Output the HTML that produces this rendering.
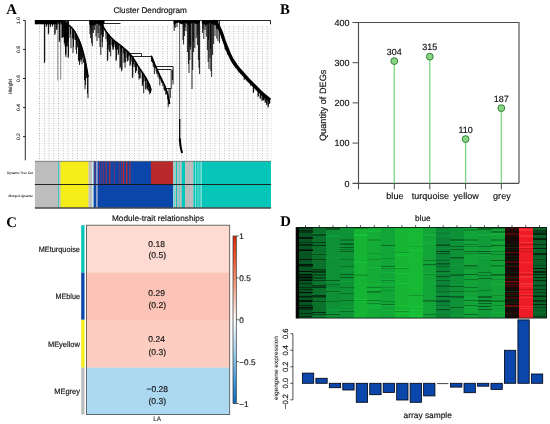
<!DOCTYPE html>
<html lang="en">
<head>
<meta charset="utf-8">
<title>WGCNA figure</title>
<style>
html,body{margin:0;padding:0;background:#fff;}
body{width:550px;height:424px;overflow:hidden;}
svg{display:block;text-rendering:geometricPrecision;}
.ss{font-family:"Liberation Sans", Arial, Helvetica, sans-serif;stroke:#111;stroke-width:1.6px;}
.sn{font-family:"Liberation Sans", Arial, Helvetica, sans-serif;stroke:#111;stroke-width:0.5px;}
.sf{font-family:"Liberation Serif", "Times New Roman", serif;}
</style>
</head>
<body>
<svg width="550" height="424" viewBox="0 0 550 424">
<rect x="0" y="0" width="550" height="424" fill="#ffffff"/>
<g id="panelA">
<text class="sf" transform="translate(6.3 14.0) scale(0.1)" font-size="148" text-anchor="start" fill="#000" font-weight="bold">A</text>
<text class="ss" transform="translate(150.1 12.6) scale(0.1)" font-size="83" text-anchor="middle" fill="#111" textLength="734" lengthAdjust="spacingAndGlyphs">Cluster Dendrogram</text>
<defs><pattern id="dots" x="34.3" y="25.9" width="4.74" height="2.49" patternUnits="userSpaceOnUse"><rect x="0" y="0" width="1" height="1" fill="#aeaeae"/><rect x="2.37" y="0" width="1" height="1" fill="#ebebeb"/></pattern></defs>
<rect x="38.5" y="25.9" width="233" height="134" fill="url(#dots)"/>
<path d="M25.3 20.4 V160.3" stroke="#111" stroke-width="0.9"/>
<path d="M23.0 20.4 H25.3" stroke="#111" stroke-width="0.9"/>
<text class="sn" transform="translate(20.1 20.4) rotate(-90) scale(0.1)" font-size="50" text-anchor="middle" fill="#000">1.0</text>
<path d="M23.0 49.46 H25.3" stroke="#111" stroke-width="0.9"/>
<text class="sn" transform="translate(20.1 49.46) rotate(-90) scale(0.1)" font-size="50" text-anchor="middle" fill="#000">0.8</text>
<path d="M23.0 78.52 H25.3" stroke="#111" stroke-width="0.9"/>
<text class="sn" transform="translate(20.1 78.52) rotate(-90) scale(0.1)" font-size="50" text-anchor="middle" fill="#000">0.6</text>
<path d="M23.0 107.58 H25.3" stroke="#111" stroke-width="0.9"/>
<text class="sn" transform="translate(20.1 107.58) rotate(-90) scale(0.1)" font-size="50" text-anchor="middle" fill="#000">0.4</text>
<path d="M23.0 136.64 H25.3" stroke="#111" stroke-width="0.9"/>
<text class="sn" transform="translate(20.1 136.64) rotate(-90) scale(0.1)" font-size="50" text-anchor="middle" fill="#000">0.2</text>
<text class="sn" transform="translate(11.8 86.6) rotate(-90) scale(0.1)" font-size="52" text-anchor="middle" fill="#111" textLength="152" lengthAdjust="spacingAndGlyphs">Height</text>
<rect x="34.8" y="20" width="28.6" height="4.3" fill="#000"/>
<path d="M57.8 22V80.5M60.7 22V79.5" stroke="#777" stroke-width="0.9" fill="none"/>
<path d="M89.3 20.2H104.5V23L101 26L97 23.5L93.5 25.5L89.3 24.5Z" fill="#000"/>
<path d="M179.6 20.4V121" stroke="#444" stroke-width="0.9" fill="none"/>
<path d="M179.7 119V142" stroke="#000" stroke-width="1.3" fill="none"/>
<path d="M179.8 139L180.3 145L181.2 149.5L181.9 152.2" stroke="#000" stroke-width="2" fill="none" stroke-linecap="round"/>
<path d="M173.6 20.2H200V22.5L197 24.5L193 22.5L189 25L185 22.8L182 24.5L178 22.5L173.6 24.5Z" fill="#000"/>
<path d="M201.8 20.2H218V23L214 25L210 22.8L206 25L201.8 23.5Z" fill="#000"/>
<path d="M35 20.5H270.6M270.5 20.5V24.3M44.4 20.5V63M44.75 20.5V61.5M46.3 20.5V27M46.65 20.5V25.5M48.3 20.5V34.5M48.65 20.5V33M50.3 20.5V27.2M50.65 20.5V25.7M52.5 20.5V26.5M52.85 20.5V25M54.8 20.5V35M55.15 20.5V33.5M56.6 20.5V30M56.95 20.5V28.5M59.3 20.5V42M59.65 20.5V40.5M62 20.5V38M62.35 20.5V36.5M64.3 20.5V43.5M64.65 20.5V42M65.5 20.5V55M65.85 20.5V53.5M67 20.5V47M67.35 20.5V45.5M68.2 20.5V58M68.55 20.5V56.5M62.5 21V37.58M63 21.21V36.86M63.5 21.43V37.14M64 21.64V29.84M64.5 21.86V42.93M65 22.07V46.25M65.5 22.29V39.87M66 22.5V57.12M66.5 22.87V46.15M67 23.23V37.66M67.5 23.6V41.63M68 23.97V38.7M70 25.63V37.81M70.5 26.1V33.86M71 26.57V48.31M72.5 28.17V38.44M73 28.83V52.98M73.5 29.5V47.33M74 30.17V38.24M75 31.5V40.12M75.5 32.42V39.99M76 33.33V49.9M76.5 34.25V53.92M77 35.17V43.76M77.5 36.08V47.44M78.5 38.2V60.63M79 39.4V61.28M79.5 40.6V64.91M80 41.8V62.21M80.5 43V59.61M81 44.5V55.37M81.5 46V60.66M82 47.5V64.34M82.5 49V58.27M83.5 52.75V62.67M84.5 56.5V80.1M85 58.83V89.22M85.5 61.17V84.99M86 63.5V74.63M86.5 66.19V77.97M87 68.88V76.62M87.5 71.83V93.68M88 75.17V98.18M90 20.5V34M90.5 20.5V27.35M90.6 20.5V38M91.6 20.5V43M92.1 20.5V31.09M92.3 20.5V46M93.4 20.5V33M94.6 20.5V30M95.1 20.5V25.68M96 20.5V36.5M97 20.5V41M98 20.5V33M98.9 20.5V38M100 20.5V47M100.8 20.5V55M101.3 20.5V34.78M102.3 20.5V42M102.8 20.5V36.93M103.2 20.5V37M100.8 23.5H120.5M101.1 22.58V30.17M102.3 24.74V47.23M102.9 25.82V34.22M105.9 30.83V38.81M107.1 32.37V41.2M107.7 33.12V40.62M108.3 33.87V49.49M108.9 34.62V45.07M110.1 36.1V44.48M110.7 36.7V56.36M111.9 37.9V45.21M112.5 38.5V46.59M113.1 39.1V48.96M113.7 39.7V44.61M114.3 40.22V44.08M114.9 40.67V46.71M115.5 41.12V48.95M116.1 41.57V50.52M117.3 42.47V49.64M117.9 42.92V49.4M120.3 44.72V48.58M120.9 45.17V49.39M121.5 45.62V52.08M123.3 47.14V53.35M124.5 48.19V56.36M125.1 48.71V67.54M125.7 49.24V62.14M126.9 50.4V57.78M127.5 51V57.07M128.1 51.6V60.56M128.7 52.2V56.29M129.3 52.85V55.44M130.5 54.25V58.93M131.1 54.95V61.61M132.3 56.45V65.29M132.9 57.35V67.31M133.5 58.25V64.38M134.7 60.05V67.1M136.5 63V70.71M138.3 65.95V74.19M140.7 69.55V78.38M142.5 72.25V75.41M143.1 73.15V81.8M143.7 74.05V93.19M144.9 76V81.18M145.5 77V80.69M147.3 80.1V90.17M148.5 82.5V86.77M149.1 83.7V92.03M149.7 85.17V94.42M150.3 87.17V92.72M107.4 33.25V61M107.8 33.25V59.5M109.4 35.75V52M109.8 35.75V50.5M113 39.5V50M113.4 39.5V48.5M116 42V61M116.4 42V59.5M118.2 43.65V55M118.6 43.65V53.5M120 45V68.5M120.4 45V67M121.6 46.2V71.3M122 46.2V69.8M124 48.25V63M124.4 48.25V61.5M127.4 51.4V61.5M127.8 51.4V60M130 54.17V66M130.4 54.17V64.5M132.4 57.1V78M132.8 57.1V76.5M135.5 61.83V73M135.9 61.83V71.5M139 67.5V79.6M139.4 67.5V78.1M142.3 72.45V86M142.7 72.45V84.5M145.6 77.67V89.5M146 77.67V88M147.2 80.4V89M147.6 80.4V87.5M148.8 83.6V91M149.2 83.6V89.5M150.5 88.33V93M150.9 88.33V91.5M130 53.5H141.5M141.5 53.5V56.5M132.4 56.5H151.4M151.4 55.5V61.4M152 57V61.79M152.6 58.5V63.01M153.2 60V66.38M153.8 61.5V67.2M154.4 63V73.98M155 64.5V68.66M156.2 67.14V71.53M156.8 68.46V74.22M157.4 69.78V73.55M158 71.1V77.3M158.6 72.42V75.01M159.2 73.74V78.99M159.8 75.06V85.41M160.4 76.3V79.29M161 77.5V80.79M161.6 78.7V82.7M162.2 79.9V83.04M162.8 81.16V86.21M164 83.8V89.73M164.6 85.12V90.86M165.2 86.55V90.31M165.8 88.2V94.69M166.4 89.85V93.31M167 91.5V94.39M167.6 93.9V99.56M168.2 96.3V107.23M168.8 99.14V104.37M155.5 66.5H173.1M173.1 66.5V84.5M172.5 70V80M157 69.5H171.2M171.2 69.5V89M164.6 88.5H170.3M170.3 88V98M169 88V101M174.2 20.5V31M174.7 20.5V26.82M175.2 20.5V28M177 20.5V27M183 20.5V40M183.6 20.5V44.5M184.1 20.5V30.78M184.6 20.5V36M185.1 20.5V26.93M186 20.5V31M187.6 20.5V52M188.4 20.5V64M189 20.5V73M189.5 20.5V45.38M189.8 20.5V60M190.3 20.5V49.58M190.8 20.5V47M192 20.5V89M192.7 20.5V70M193.2 20.5V41.53M193.6 20.5V52M194.8 20.5V48M196.2 20.5V38M197.4 20.5V45M197.9 20.5V34.88M198.4 20.5V60M199 20.5V68M199.6 20.5V74M202.6 20.5V33M203.1 20.5V29.01M203.8 20.5V39M205 20.5V30M205.5 20.5V26.03M206.3 20.5V36.7M207.4 20.5V50M208.2 20.5V62M208.7 20.5V39.84M209 20.5V69M210 20.5V58M210.5 20.5V48.9M210.8 20.5V71M211.6 20.5V76.8M212.6 20.5V55M213.6 20.5V44M215 20.5V36M216.8 20.5V38.6M218 20.5V41M219.5 20.5V43M213.6 20.93V24.25M214.2 21.36V24.49M216 22.64V25.68M216.6 23.16V29.04M217.2 24.12V28.88M217.8 25.08V27.86M218.4 26.04V29.43M219 27V29.82M219.6 28.32V30.6M220.2 29.64V32.54M221.4 32.28V35.01M222 34V38.47M222.6 35.8V40.15M223.2 37.6V40.91M223.8 39.4V42.83M225 42.68V48.94M225.6 44.29V50.33M226.8 47.5V49.94M227.4 48.94V54.33M228.6 51.83V54.39M229.2 53.28V55.35M229.8 54.6V56.67M230.4 55.8V57.33M231 57V58.81M231.6 58.2V61.5M232.2 59.3V62.78M232.8 60.2V63.51M233.4 61.1V64.55M234 62V65.37M234.6 62.9V66.36M235.2 63.8V65.53M235.8 64.7V68.3M236.4 65.5V67.25M237 66.25V68.66M237.6 67V69.34M238.2 67.75V71.25M238.8 68.5V72.25M240 70V72.75M240.6 70.67V73.55M241.2 71.35V74.12M241.8 72.02V74.02M243.6 74.05V75.67M244.2 74.72V80.17M244.8 75.4V78.42M245.4 76.07V78.68M246 76.75V79.21M246.6 77.42V80.41M247.2 78.1V79.84M247.8 78.77V81.81M248.4 79.4V81.42M249 80V82.81M249.6 80.6V83.2M250.8 81.8V86.12M252 83V84.67M252.6 83.6V86.47M253.2 84.2V85.85M253.8 84.8V86.46M254.4 85.4V88.29M255 86V88.22M255.6 86.6V88.33M256.2 87.2V90.54M257.4 88.4V91.51M258 89V91.3M259.2 90.2V92.42M259.8 90.8V93.09M260.4 91.35V93.98M261 91.87V95.05M261.6 92.4V95.42M262.2 92.92V94.47M262.8 93.45V96.08M263.4 93.97V100.21M264 94.5V100.67M264.6 95V97.97M265.2 95.5V98.27M265.8 96V98.8M266.4 96.5V99.53M267 97V99.29M268.2 98V100.49M268.8 98.5V101.42M269.4 99V102.15M253.3 84.8V93M253.7 84.8V92M258 89.5V97M258.4 89.5V96M260.2 91.67V99M260.6 91.67V98M262 93.25V101M262.4 93.25V100M263.6 94.65V100M264 94.65V99M265.2 96V103M265.6 96V102M266.6 97.17V105M267 97.17V104M268 98.33V107.5M268.4 98.33V106.5M269.4 99.5V104M269.8 99.5V103" stroke="#000" stroke-width="0.85" fill="none"/>
<path d="M62.5 21.5L66 23L69 25.2L72 28L75 32L78 37.5L80.5 43.5L82.5 49.5L84.5 57L86 64L87.3 71L88.2 77" stroke="#000" stroke-width="1.3" fill="none" stroke-linejoin="round"/>
<path d="M100.5 22L103 26.5L106 31.5L110 36.5L114 40.5L118 43.5L122 46.5L126 50L129 53L132 56.5L135 61L138 66L141 70.5L144 75L147 80L149.5 85L151 90" stroke="#000" stroke-width="1.5" fill="none" stroke-linejoin="round"/>
<path d="M151.4 56L153 60L155 65L157.5 70.5L160 76L162.5 81L165 86.5L167 92L168.5 98L169.6 104" stroke="#000" stroke-width="1.6" fill="none" stroke-linejoin="round"/>
<path d="M213 21L216.5 23.5L219 27.5L221.5 33L224 40.5L226.8 48L229.5 54.5L232 59.5L236 65.5L240 70.5L244 75L248 79.5L252 83.5L256 87.5L260 91.5L264 95L267 97.5L270 100" stroke="#000" stroke-width="3.4" fill="none" stroke-linejoin="round"/>
<rect x="34.9" y="161" width="23.35" height="23.5" fill="#bdbdbd"/>
<rect x="58.1" y="161" width="0.85" height="23.5" fill="#05c6b9"/>
<rect x="58.8" y="161" width="1.75" height="23.5" fill="#bdbdbd"/>
<rect x="60.4" y="161" width="0.75" height="23.5" fill="#d8d44a"/>
<rect x="61" y="161" width="27.65" height="23.5" fill="#f4ed17"/>
<rect x="88.5" y="161" width="3.65" height="23.5" fill="#bdbdbd"/>
<rect x="92" y="161" width="1.75" height="23.5" fill="#cfe9e6"/>
<rect x="93.6" y="161" width="2.75" height="23.5" fill="#0b47ab"/>
<rect x="96.2" y="161" width="1.65" height="23.5" fill="#8d9bc4"/>
<rect x="97.7" y="161" width="53.35" height="23.5" fill="#0b47ab"/>
<rect x="94.5" y="161" width="0.65" height="23.5" fill="#a02a4a"/>
<rect x="99.3" y="161" width="0.65" height="23.5" fill="#a02a4a"/>
<rect x="101.5" y="161" width="0.65" height="23.5" fill="#a02a4a"/>
<rect x="103.3" y="161" width="0.65" height="23.5" fill="#a02a4a"/>
<rect x="105.7" y="161" width="0.95" height="23.5" fill="#c42a2a"/>
<rect x="109.2" y="161" width="1.15" height="23.5" fill="#c42a2a"/>
<rect x="113.8" y="161" width="0.75" height="23.5" fill="#a02a4a"/>
<rect x="118.8" y="161" width="0.65" height="23.5" fill="#a02a4a"/>
<rect x="121.1" y="161" width="0.75" height="23.5" fill="#a02a4a"/>
<rect x="122.8" y="161" width="1.35" height="23.5" fill="#c42a2a"/>
<rect x="126" y="161" width="1.35" height="23.5" fill="#c42a2a"/>
<rect x="129.4" y="161" width="1.05" height="23.5" fill="#c42a2a"/>
<rect x="150.9" y="161" width="22.55" height="23.5" fill="#b7292b"/>
<rect x="173.3" y="161" width="0.85" height="23.5" fill="#8fdcd6"/>
<rect x="174" y="161" width="0.65" height="23.5" fill="#05c6b9"/>
<rect x="174.5" y="161" width="0.65" height="23.5" fill="#8fdcd6"/>
<rect x="175" y="161" width="1.15" height="23.5" fill="#bdbdbd"/>
<rect x="176" y="161" width="1.15" height="23.5" fill="#05c6b9"/>
<rect x="177" y="161" width="1.95" height="23.5" fill="#bdbdbd"/>
<rect x="178.8" y="161" width="0.95" height="23.5" fill="#05c6b9"/>
<rect x="179.6" y="161" width="2.15" height="23.5" fill="#bdbdbd"/>
<rect x="181.6" y="161" width="3.55" height="23.5" fill="#05c6b9"/>
<rect x="185" y="161" width="8.55" height="23.5" fill="#bdbdbd"/>
<rect x="193.4" y="161" width="2.15" height="23.5" fill="#05c6b9"/>
<rect x="195.4" y="161" width="0.75" height="23.5" fill="#8fdcd6"/>
<rect x="196" y="161" width="1.85" height="23.5" fill="#05c6b9"/>
<rect x="197.7" y="161" width="0.75" height="23.5" fill="#8fdcd6"/>
<rect x="198.3" y="161" width="1.65" height="23.5" fill="#05c6b9"/>
<rect x="199.8" y="161" width="0.75" height="23.5" fill="#8fdcd6"/>
<rect x="200.4" y="161" width="1.15" height="23.5" fill="#05c6b9"/>
<rect x="201.4" y="161" width="0.65" height="23.5" fill="#8fdcd6"/>
<rect x="201.9" y="161" width="69.05" height="23.5" fill="#05c6b9"/>
<rect x="34.9" y="184.5" width="23.35" height="23.5" fill="#bdbdbd"/>
<rect x="58.1" y="184.5" width="0.85" height="23.5" fill="#05c6b9"/>
<rect x="58.8" y="184.5" width="1.75" height="23.5" fill="#bdbdbd"/>
<rect x="60.4" y="184.5" width="0.75" height="23.5" fill="#d8d44a"/>
<rect x="61" y="184.5" width="27.65" height="23.5" fill="#f4ed17"/>
<rect x="88.5" y="184.5" width="3.65" height="23.5" fill="#bdbdbd"/>
<rect x="92" y="184.5" width="1.75" height="23.5" fill="#cfe9e6"/>
<rect x="93.6" y="184.5" width="2.75" height="23.5" fill="#0b47ab"/>
<rect x="96.2" y="184.5" width="1.65" height="23.5" fill="#8d9bc4"/>
<rect x="97.7" y="184.5" width="75.75" height="23.5" fill="#0b47ab"/>
<rect x="173.3" y="184.5" width="0.85" height="23.5" fill="#8fdcd6"/>
<rect x="174" y="184.5" width="0.65" height="23.5" fill="#05c6b9"/>
<rect x="174.5" y="184.5" width="0.65" height="23.5" fill="#8fdcd6"/>
<rect x="175" y="184.5" width="1.15" height="23.5" fill="#bdbdbd"/>
<rect x="176" y="184.5" width="1.15" height="23.5" fill="#05c6b9"/>
<rect x="177" y="184.5" width="1.95" height="23.5" fill="#bdbdbd"/>
<rect x="178.8" y="184.5" width="0.95" height="23.5" fill="#05c6b9"/>
<rect x="179.6" y="184.5" width="2.15" height="23.5" fill="#bdbdbd"/>
<rect x="181.6" y="184.5" width="3.55" height="23.5" fill="#05c6b9"/>
<rect x="185" y="184.5" width="8.55" height="23.5" fill="#bdbdbd"/>
<rect x="193.4" y="184.5" width="2.15" height="23.5" fill="#05c6b9"/>
<rect x="195.4" y="184.5" width="0.75" height="23.5" fill="#8fdcd6"/>
<rect x="196" y="184.5" width="1.85" height="23.5" fill="#05c6b9"/>
<rect x="197.7" y="184.5" width="0.75" height="23.5" fill="#8fdcd6"/>
<rect x="198.3" y="184.5" width="1.65" height="23.5" fill="#05c6b9"/>
<rect x="199.8" y="184.5" width="0.75" height="23.5" fill="#8fdcd6"/>
<rect x="200.4" y="184.5" width="1.15" height="23.5" fill="#05c6b9"/>
<rect x="201.4" y="184.5" width="0.65" height="23.5" fill="#8fdcd6"/>
<rect x="201.9" y="184.5" width="69.05" height="23.5" fill="#05c6b9"/>
<path d="M34.9 161.3H270.9" stroke="#6e6e6e" stroke-width="0.8"/>
<path d="M34.9 184.5H270.9" stroke="#111" stroke-width="0.9"/>
<path d="M34.9 208.0H270.9" stroke="#4a4a4a" stroke-width="1.3"/>
<text class="sn" transform="translate(33.0 174.0) scale(0.1)" font-size="34" text-anchor="end" fill="#111" textLength="260" lengthAdjust="spacingAndGlyphs">Dynamic Tree Cut</text>
<text class="sn" transform="translate(33.0 197.0) scale(0.1)" font-size="34" text-anchor="end" fill="#111" textLength="245" lengthAdjust="spacingAndGlyphs">Merged dynamic</text>
</g>
<g id="panelB">
<text class="sf" transform="translate(279.9 14.0) scale(0.1)" font-size="148" text-anchor="start" fill="#000" font-weight="bold">B</text>
<path d="M358.5 189.3 V22.5 H519.0 V183.3 M352.5 183.3 H519.0" fill="none" stroke="#4d4d4d" stroke-width="1.15"/>
<path d="M352.5 22.5 H358.5" stroke="#4d4d4d" stroke-width="1"/>
<text class="ss" transform="translate(349.6 25.7) scale(0.1)" font-size="90" text-anchor="end" fill="#111">400</text>
<path d="M352.5 62.7 H358.5" stroke="#4d4d4d" stroke-width="1"/>
<text class="ss" transform="translate(349.6 65.9) scale(0.1)" font-size="90" text-anchor="end" fill="#111">300</text>
<path d="M352.5 102.9 H358.5" stroke="#4d4d4d" stroke-width="1"/>
<text class="ss" transform="translate(349.6 106.1) scale(0.1)" font-size="90" text-anchor="end" fill="#111">200</text>
<path d="M352.5 143.1 H358.5" stroke="#4d4d4d" stroke-width="1"/>
<text class="ss" transform="translate(349.6 146.3) scale(0.1)" font-size="90" text-anchor="end" fill="#111">100</text>
<text class="ss" transform="translate(349.6 186.5) scale(0.1)" font-size="90" text-anchor="end" fill="#111">0</text>
<text class="ss" transform="translate(325.8 105.3) rotate(-90) scale(0.1)" font-size="92" text-anchor="middle" fill="#111" textLength="715" lengthAdjust="spacingAndGlyphs">Quantity of DEGs</text>
<path d="M394.3 183.3 V61.09" stroke="#7fd67e" stroke-width="1.3"/>
<path d="M394.3 183.3 V189.3" stroke="#4d4d4d" stroke-width="1"/>
<circle cx="394.3" cy="61.09" r="3.4" fill="#86d583" stroke="#357f3a" stroke-width="1"/>
<text class="ss" transform="translate(394.3 54.79) scale(0.1)" font-size="90" text-anchor="middle" fill="#111">304</text>
<text class="ss" transform="translate(394.90000000000003 198.5) scale(0.1)" font-size="91" text-anchor="middle" fill="#111">blue</text>
<path d="M429.8 183.3 V56.67" stroke="#7fd67e" stroke-width="1.3"/>
<path d="M429.8 183.3 V189.3" stroke="#4d4d4d" stroke-width="1"/>
<circle cx="429.8" cy="56.67" r="3.4" fill="#86d583" stroke="#357f3a" stroke-width="1"/>
<text class="ss" transform="translate(429.8 50.37) scale(0.1)" font-size="90" text-anchor="middle" fill="#111">315</text>
<text class="ss" transform="translate(430.40000000000003 198.5) scale(0.1)" font-size="91" text-anchor="middle" fill="#111">turquoise</text>
<path d="M465.6 183.3 V139.08" stroke="#7fd67e" stroke-width="1.3"/>
<path d="M465.6 183.3 V189.3" stroke="#4d4d4d" stroke-width="1"/>
<circle cx="465.6" cy="139.08" r="3.4" fill="#86d583" stroke="#357f3a" stroke-width="1"/>
<text class="ss" transform="translate(465.6 132.78) scale(0.1)" font-size="90" text-anchor="middle" fill="#111">110</text>
<text class="ss" transform="translate(466.20000000000005 198.5) scale(0.1)" font-size="91" text-anchor="middle" fill="#111">yellow</text>
<path d="M501.3 183.3 V108.13" stroke="#7fd67e" stroke-width="1.3"/>
<path d="M501.3 183.3 V189.3" stroke="#4d4d4d" stroke-width="1"/>
<circle cx="501.3" cy="108.13" r="3.4" fill="#86d583" stroke="#357f3a" stroke-width="1"/>
<text class="ss" transform="translate(501.3 101.83) scale(0.1)" font-size="90" text-anchor="middle" fill="#111">187</text>
<text class="ss" transform="translate(501.90000000000003 198.5) scale(0.1)" font-size="91" text-anchor="middle" fill="#111">grey</text>
</g>
<g id="panelC">
<text class="sf" transform="translate(6.2 226.6) scale(0.1)" font-size="148" text-anchor="start" fill="#000" font-weight="bold">C</text>
<text class="ss" transform="translate(158 221.1) scale(0.1)" font-size="82" text-anchor="middle" fill="#111" textLength="920" lengthAdjust="spacingAndGlyphs">Module-trait relationships</text>
<rect x="81.2" y="225.2" width="3.3" height="47.5" fill="#05c6b9"/>
<rect x="86.5" y="225.2" width="143.2" height="47.8" fill="#fddbd2"/>
<text class="ss" transform="translate(79.9 252.3) scale(0.1)" font-size="80" text-anchor="end" fill="#111" textLength="412" lengthAdjust="spacingAndGlyphs">MEturquoise</text>
<text class="ss" transform="translate(156.6 247.2) scale(0.1)" font-size="85" text-anchor="middle" fill="#111">0.18</text>
<text class="ss" transform="translate(157.3 258.1) scale(0.1)" font-size="86" text-anchor="middle" fill="#111">(0.5)</text>
<rect x="81.2" y="272.7" width="3.3" height="47.1" fill="#0b47ab"/>
<rect x="86.5" y="272.7" width="143.2" height="47.4" fill="#fcc4b6"/>
<text class="ss" transform="translate(79.9 299.4) scale(0.1)" font-size="80" text-anchor="end" fill="#111" textLength="244" lengthAdjust="spacingAndGlyphs">MEblue</text>
<text class="ss" transform="translate(156.6 296.0) scale(0.1)" font-size="85" text-anchor="middle" fill="#111">0.29</text>
<text class="ss" transform="translate(157.3 307.5) scale(0.1)" font-size="86" text-anchor="middle" fill="#111">(0.2)</text>
<rect x="81.2" y="319.8" width="3.3" height="47.8" fill="#f4ed17"/>
<rect x="86.5" y="319.8" width="143.2" height="48.1" fill="#fdcdc1"/>
<text class="ss" transform="translate(79.9 347.0) scale(0.1)" font-size="80" text-anchor="end" fill="#111" textLength="320" lengthAdjust="spacingAndGlyphs">MEyellow</text>
<text class="ss" transform="translate(156.6 342.1) scale(0.1)" font-size="85" text-anchor="middle" fill="#111">0.24</text>
<text class="ss" transform="translate(157.3 355.2) scale(0.1)" font-size="86" text-anchor="middle" fill="#111">(0.3)</text>
<rect x="81.2" y="367.6" width="3.3" height="46.9" fill="#bdbdbd"/>
<rect x="86.5" y="367.6" width="143.2" height="47.2" fill="#acd9f1"/>
<text class="ss" transform="translate(79.9 394.4) scale(0.1)" font-size="80" text-anchor="end" fill="#111" textLength="257" lengthAdjust="spacingAndGlyphs">MEgrey</text>
<text class="ss" transform="translate(157.3 391.9) scale(0.1)" font-size="85" text-anchor="middle" fill="#111">−0.28</text>
<text class="ss" transform="translate(157.3 403.6) scale(0.1)" font-size="86" text-anchor="middle" fill="#111">(0.3)</text>
<rect x="86.5" y="225.2" width="143.2" height="189.3" fill="none" stroke="#4a4a4a" stroke-width="0.8"/>
<text class="sn" transform="translate(157.2 421.0) scale(0.1)" font-size="64" text-anchor="middle" fill="#111">LA</text>
<defs><linearGradient id="cb" x1="0" y1="0" x2="0" y2="1"><stop offset="0" stop-color="#d92a0c"/><stop offset="0.12" stop-color="#ec5228"/><stop offset="0.3" stop-color="#f8a286"/><stop offset="0.5" stop-color="#ffffff"/><stop offset="0.7" stop-color="#9fd0ef"/><stop offset="0.88" stop-color="#3593d6"/><stop offset="1" stop-color="#0a6bc0"/></linearGradient></defs>
<rect x="233.0" y="236.0" width="3.3" height="167.5" fill="url(#cb)" stroke="#333" stroke-width="0.7"/>
<path d="M236.3 236 H238.70000000000002" stroke="#333" stroke-width="0.8"/>
<text class="ss" transform="translate(239.3 239) scale(0.1)" font-size="82" text-anchor="start" fill="#111">1</text>
<path d="M236.3 277.88 H238.70000000000002" stroke="#333" stroke-width="0.8"/>
<text class="ss" transform="translate(239.3 280.88) scale(0.1)" font-size="82" text-anchor="start" fill="#111">0.5</text>
<path d="M236.3 319.75 H238.70000000000002" stroke="#333" stroke-width="0.8"/>
<text class="ss" transform="translate(239.3 322.75) scale(0.1)" font-size="82" text-anchor="start" fill="#111">0</text>
<path d="M236.3 361.62 H238.70000000000002" stroke="#333" stroke-width="0.8"/>
<text class="ss" transform="translate(239.3 364.62) scale(0.1)" font-size="82" text-anchor="start" fill="#111">−0.5</text>
<path d="M236.3 403.5 H238.70000000000002" stroke="#333" stroke-width="0.8"/>
<text class="ss" transform="translate(239.3 406.5) scale(0.1)" font-size="82" text-anchor="start" fill="#111">−1</text>
</g>
<g id="panelD">
<text class="sf" transform="translate(280.2 226.4) scale(0.1)" font-size="148" text-anchor="start" fill="#000" font-weight="bold">D</text>
<text class="ss" transform="translate(422.8 221.2) scale(0.1)" font-size="82" text-anchor="middle" fill="#111">blue</text>
<path d="M305.48 225.0 V227.4" stroke="#222" stroke-width="0.7"/>
<path d="M319.25 225.0 V227.4" stroke="#222" stroke-width="0.7"/>
<path d="M333.02 225.0 V227.4" stroke="#222" stroke-width="0.7"/>
<path d="M346.78 225.0 V227.4" stroke="#222" stroke-width="0.7"/>
<path d="M360.55 225.0 V227.4" stroke="#222" stroke-width="0.7"/>
<path d="M374.32 225.0 V227.4" stroke="#222" stroke-width="0.7"/>
<path d="M388.08 225.0 V227.4" stroke="#222" stroke-width="0.7"/>
<path d="M401.85 225.0 V227.4" stroke="#222" stroke-width="0.7"/>
<path d="M415.62 225.0 V227.4" stroke="#222" stroke-width="0.7"/>
<path d="M429.38 225.0 V227.4" stroke="#222" stroke-width="0.7"/>
<path d="M443.15 225.0 V227.4" stroke="#222" stroke-width="0.7"/>
<path d="M456.92 225.0 V227.4" stroke="#222" stroke-width="0.7"/>
<path d="M470.68 225.0 V227.4" stroke="#222" stroke-width="0.7"/>
<path d="M484.45 225.0 V227.4" stroke="#222" stroke-width="0.7"/>
<path d="M498.22 225.0 V227.4" stroke="#222" stroke-width="0.7"/>
<path d="M511.98 225.0 V227.4" stroke="#222" stroke-width="0.7"/>
<path d="M525.75 225.0 V227.4" stroke="#222" stroke-width="0.7"/>
<path d="M539.52 225.0 V227.4" stroke="#222" stroke-width="0.7"/>
<g shape-rendering="crispEdges">
<rect x="298.6" y="227.4" width="13.97" height="90.7" fill="rgb(6,86,35)"/>
<rect x="312.37" y="227.4" width="13.97" height="90.7" fill="rgb(10,114,43)"/>
<rect x="326.13" y="227.4" width="13.97" height="90.7" fill="rgb(14,144,54)"/>
<rect x="339.9" y="227.4" width="13.97" height="90.7" fill="rgb(14,148,54)"/>
<rect x="353.67" y="227.4" width="13.97" height="90.7" fill="rgb(22,180,52)"/>
<rect x="367.43" y="227.4" width="13.97" height="90.7" fill="rgb(20,172,54)"/>
<rect x="381.2" y="227.4" width="13.97" height="90.7" fill="rgb(18,166,56)"/>
<rect x="394.97" y="227.4" width="13.97" height="90.7" fill="rgb(22,182,52)"/>
<rect x="408.73" y="227.4" width="13.97" height="90.7" fill="rgb(22,184,52)"/>
<rect x="422.5" y="227.4" width="13.97" height="90.7" fill="rgb(18,164,56)"/>
<rect x="436.27" y="227.4" width="13.97" height="90.7" fill="rgb(12,132,54)"/>
<rect x="450.03" y="227.4" width="13.97" height="90.7" fill="rgb(14,146,56)"/>
<rect x="463.8" y="227.4" width="13.97" height="90.7" fill="rgb(18,164,56)"/>
<rect x="477.57" y="227.4" width="13.97" height="90.7" fill="rgb(16,156,56)"/>
<rect x="491.33" y="227.4" width="13.97" height="90.7" fill="rgb(18,162,56)"/>
<rect x="505.1" y="227.4" width="13.97" height="90.7" fill="rgb(24,10,8)"/>
<rect x="518.87" y="227.4" width="13.97" height="90.7" fill="rgb(238,28,38)"/>
<rect x="532.63" y="227.4" width="13.97" height="90.7" fill="rgb(8,98,40)"/>
<rect x="298.6" y="227.4" width="13.97" height="1.16" fill="rgb(3,51,21)"/>
<rect x="298.6" y="230.42" width="13.97" height="1.16" fill="rgb(2,32,13)"/>
<rect x="298.6" y="231.43" width="13.97" height="1.16" fill="rgb(4,58,23)"/>
<rect x="298.6" y="237.48" width="13.97" height="1.16" fill="rgb(1,25,10)"/>
<rect x="298.6" y="241.51" width="13.97" height="1.16" fill="rgb(4,57,23)"/>
<rect x="298.6" y="243.52" width="13.97" height="1.16" fill="rgb(2,42,17)"/>
<rect x="298.6" y="244.53" width="13.97" height="1.16" fill="rgb(3,44,18)"/>
<rect x="298.6" y="248.56" width="13.97" height="1.16" fill="rgb(3,50,20)"/>
<rect x="298.6" y="249.57" width="13.97" height="1.16" fill="rgb(1,17,7)"/>
<rect x="298.6" y="258.64" width="13.97" height="1.16" fill="rgb(1,20,8)"/>
<rect x="298.6" y="261.66" width="13.97" height="1.16" fill="rgb(6,92,37)"/>
<rect x="298.6" y="263.68" width="13.97" height="1.16" fill="rgb(1,24,10)"/>
<rect x="298.6" y="264.69" width="13.97" height="1.16" fill="rgb(2,29,11)"/>
<rect x="298.6" y="265.7" width="13.97" height="1.16" fill="rgb(3,53,21)"/>
<rect x="298.6" y="270.73" width="13.97" height="1.16" fill="rgb(1,17,7)"/>
<rect x="298.6" y="273.76" width="13.97" height="1.16" fill="rgb(0,13,5)"/>
<rect x="298.6" y="274.77" width="13.97" height="1.16" fill="rgb(4,57,23)"/>
<rect x="298.6" y="275.77" width="13.97" height="1.16" fill="rgb(2,38,15)"/>
<rect x="298.6" y="276.78" width="13.97" height="1.16" fill="rgb(0,14,5)"/>
<rect x="298.6" y="277.79" width="13.97" height="1.16" fill="rgb(3,53,21)"/>
<rect x="298.6" y="278.8" width="13.97" height="1.16" fill="rgb(3,45,18)"/>
<rect x="298.6" y="279.8" width="13.97" height="1.16" fill="rgb(1,20,8)"/>
<rect x="298.6" y="282.83" width="13.97" height="1.16" fill="rgb(3,49,20)"/>
<rect x="298.6" y="286.86" width="13.97" height="1.16" fill="rgb(3,53,21)"/>
<rect x="298.6" y="288.87" width="13.97" height="1.16" fill="rgb(3,47,19)"/>
<rect x="298.6" y="291.9" width="13.97" height="1.16" fill="rgb(0,14,5)"/>
<rect x="298.6" y="295.93" width="13.97" height="1.16" fill="rgb(2,34,13)"/>
<rect x="298.6" y="296.94" width="13.97" height="1.16" fill="rgb(3,57,23)"/>
<rect x="298.6" y="297.94" width="13.97" height="1.16" fill="rgb(6,92,37)"/>
<rect x="298.6" y="299.96" width="13.97" height="1.16" fill="rgb(1,23,9)"/>
<rect x="298.6" y="300.97" width="13.97" height="1.16" fill="rgb(1,22,9)"/>
<rect x="298.6" y="305" width="13.97" height="1.16" fill="rgb(2,35,14)"/>
<rect x="298.6" y="307.01" width="13.97" height="1.16" fill="rgb(1,16,6)"/>
<rect x="298.6" y="308.02" width="13.97" height="1.16" fill="rgb(3,49,20)"/>
<rect x="298.6" y="309.03" width="13.97" height="1.16" fill="rgb(3,48,19)"/>
<rect x="298.6" y="313.06" width="13.97" height="1.16" fill="rgb(3,50,20)"/>
<rect x="298.6" y="316.08" width="13.97" height="1.16" fill="rgb(3,47,19)"/>
<rect x="312.37" y="233.45" width="13.97" height="1.16" fill="rgb(10,123,46)"/>
<rect x="312.37" y="234.45" width="13.97" height="1.16" fill="rgb(6,75,28)"/>
<rect x="312.37" y="241.51" width="13.97" height="1.16" fill="rgb(5,65,24)"/>
<rect x="312.37" y="244.53" width="13.97" height="1.16" fill="rgb(4,55,20)"/>
<rect x="312.37" y="252.59" width="13.97" height="1.16" fill="rgb(10,123,46)"/>
<rect x="312.37" y="253.6" width="13.97" height="1.16" fill="rgb(6,72,27)"/>
<rect x="312.37" y="254.61" width="13.97" height="1.16" fill="rgb(10,123,46)"/>
<rect x="312.37" y="258.64" width="13.97" height="1.16" fill="rgb(6,69,26)"/>
<rect x="312.37" y="268.72" width="13.97" height="1.16" fill="rgb(5,60,22)"/>
<rect x="312.37" y="269.73" width="13.97" height="1.16" fill="rgb(7,81,30)"/>
<rect x="312.37" y="270.73" width="13.97" height="1.16" fill="rgb(4,50,19)"/>
<rect x="312.37" y="271.74" width="13.97" height="1.16" fill="rgb(5,58,21)"/>
<rect x="312.37" y="273.76" width="13.97" height="1.16" fill="rgb(6,71,26)"/>
<rect x="312.37" y="274.77" width="13.97" height="1.16" fill="rgb(7,80,30)"/>
<rect x="312.37" y="276.78" width="13.97" height="1.16" fill="rgb(6,73,27)"/>
<rect x="312.37" y="277.79" width="13.97" height="1.16" fill="rgb(6,77,29)"/>
<rect x="312.37" y="279.8" width="13.97" height="1.16" fill="rgb(5,67,25)"/>
<rect x="312.37" y="281.82" width="13.97" height="1.16" fill="rgb(10,123,46)"/>
<rect x="312.37" y="283.84" width="13.97" height="1.16" fill="rgb(10,123,46)"/>
<rect x="312.37" y="284.84" width="13.97" height="1.16" fill="rgb(5,57,21)"/>
<rect x="312.37" y="285.85" width="13.97" height="1.16" fill="rgb(7,83,31)"/>
<rect x="312.37" y="286.86" width="13.97" height="1.16" fill="rgb(4,51,19)"/>
<rect x="312.37" y="294.92" width="13.97" height="1.16" fill="rgb(4,52,19)"/>
<rect x="312.37" y="295.93" width="13.97" height="1.16" fill="rgb(4,52,19)"/>
<rect x="312.37" y="296.94" width="13.97" height="1.16" fill="rgb(7,85,32)"/>
<rect x="312.37" y="300.97" width="13.97" height="1.16" fill="rgb(5,67,25)"/>
<rect x="312.37" y="301.98" width="13.97" height="1.16" fill="rgb(10,123,46)"/>
<rect x="312.37" y="312.05" width="13.97" height="1.16" fill="rgb(4,46,17)"/>
<rect x="312.37" y="314.07" width="13.97" height="1.16" fill="rgb(6,68,26)"/>
<rect x="312.37" y="315.08" width="13.97" height="1.16" fill="rgb(10,123,46)"/>
<rect x="312.37" y="316.08" width="13.97" height="1.16" fill="rgb(10,123,46)"/>
<rect x="326.13" y="228.41" width="13.97" height="1.16" fill="rgb(8,90,33)"/>
<rect x="326.13" y="235.46" width="13.97" height="1.16" fill="rgb(15,155,58)"/>
<rect x="326.13" y="256.63" width="13.97" height="1.16" fill="rgb(15,155,58)"/>
<rect x="326.13" y="279.8" width="13.97" height="1.16" fill="rgb(8,90,34)"/>
<rect x="326.13" y="283.84" width="13.97" height="1.16" fill="rgb(9,102,38)"/>
<rect x="326.13" y="285.85" width="13.97" height="1.16" fill="rgb(12,126,47)"/>
<rect x="326.13" y="290.89" width="13.97" height="1.16" fill="rgb(9,102,38)"/>
<rect x="326.13" y="300.97" width="13.97" height="1.16" fill="rgb(11,113,42)"/>
<rect x="326.13" y="309.03" width="13.97" height="1.16" fill="rgb(15,155,58)"/>
<rect x="326.13" y="310.04" width="13.97" height="1.16" fill="rgb(15,155,58)"/>
<rect x="326.13" y="313.06" width="13.97" height="1.16" fill="rgb(15,155,58)"/>
<rect x="326.13" y="314.07" width="13.97" height="1.16" fill="rgb(8,86,32)"/>
<rect x="339.9" y="239.49" width="13.97" height="1.16" fill="rgb(10,116,42)"/>
<rect x="339.9" y="242.52" width="13.97" height="1.16" fill="rgb(9,104,38)"/>
<rect x="339.9" y="243.52" width="13.97" height="1.16" fill="rgb(8,94,34)"/>
<rect x="339.9" y="246.55" width="13.97" height="1.16" fill="rgb(8,90,33)"/>
<rect x="339.9" y="248.56" width="13.97" height="1.16" fill="rgb(10,114,41)"/>
<rect x="339.9" y="250.58" width="13.97" height="1.16" fill="rgb(8,94,34)"/>
<rect x="339.9" y="258.64" width="13.97" height="1.16" fill="rgb(11,117,42)"/>
<rect x="339.9" y="265.7" width="13.97" height="1.16" fill="rgb(10,114,41)"/>
<rect x="339.9" y="269.73" width="13.97" height="1.16" fill="rgb(15,159,58)"/>
<rect x="339.9" y="273.76" width="13.97" height="1.16" fill="rgb(8,91,33)"/>
<rect x="339.9" y="276.78" width="13.97" height="1.16" fill="rgb(8,91,33)"/>
<rect x="339.9" y="280.81" width="13.97" height="1.16" fill="rgb(15,159,58)"/>
<rect x="339.9" y="286.86" width="13.97" height="1.16" fill="rgb(10,114,41)"/>
<rect x="339.9" y="292.91" width="13.97" height="1.16" fill="rgb(10,112,40)"/>
<rect x="339.9" y="299.96" width="13.97" height="1.16" fill="rgb(10,108,39)"/>
<rect x="339.9" y="306.01" width="13.97" height="1.16" fill="rgb(15,159,58)"/>
<rect x="339.9" y="310.04" width="13.97" height="1.16" fill="rgb(15,159,58)"/>
<rect x="339.9" y="311.05" width="13.97" height="1.16" fill="rgb(10,107,39)"/>
<rect x="353.67" y="227.4" width="13.97" height="1.16" fill="rgb(16,139,40)"/>
<rect x="353.67" y="234.45" width="13.97" height="1.16" fill="rgb(23,194,56)"/>
<rect x="353.67" y="261.66" width="13.97" height="1.16" fill="rgb(23,194,56)"/>
<rect x="353.67" y="273.76" width="13.97" height="1.16" fill="rgb(20,163,47)"/>
<rect x="353.67" y="274.77" width="13.97" height="1.16" fill="rgb(18,151,43)"/>
<rect x="353.67" y="298.95" width="13.97" height="1.16" fill="rgb(23,194,56)"/>
<rect x="353.67" y="299.96" width="13.97" height="1.16" fill="rgb(19,162,47)"/>
<rect x="367.43" y="230.42" width="13.97" height="1.16" fill="rgb(21,185,58)"/>
<rect x="367.43" y="239.49" width="13.97" height="1.16" fill="rgb(17,149,46)"/>
<rect x="367.43" y="252.59" width="13.97" height="1.16" fill="rgb(17,153,48)"/>
<rect x="367.43" y="258.64" width="13.97" height="1.16" fill="rgb(16,145,45)"/>
<rect x="367.43" y="266.7" width="13.97" height="1.16" fill="rgb(21,185,58)"/>
<rect x="367.43" y="283.84" width="13.97" height="1.16" fill="rgb(21,185,58)"/>
<rect x="367.43" y="286.86" width="13.97" height="1.16" fill="rgb(14,128,40)"/>
<rect x="367.43" y="288.87" width="13.97" height="1.16" fill="rgb(21,185,58)"/>
<rect x="367.43" y="290.89" width="13.97" height="1.16" fill="rgb(14,121,38)"/>
<rect x="367.43" y="291.9" width="13.97" height="1.16" fill="rgb(15,134,42)"/>
<rect x="367.43" y="299.96" width="13.97" height="1.16" fill="rgb(14,127,39)"/>
<rect x="367.43" y="302.98" width="13.97" height="1.16" fill="rgb(16,137,43)"/>
<rect x="367.43" y="305" width="13.97" height="1.16" fill="rgb(21,185,58)"/>
<rect x="367.43" y="307.01" width="13.97" height="1.16" fill="rgb(21,185,58)"/>
<rect x="381.2" y="244.53" width="13.97" height="1.16" fill="rgb(11,109,36)"/>
<rect x="381.2" y="257.63" width="13.97" height="1.16" fill="rgb(15,142,47)"/>
<rect x="381.2" y="265.7" width="13.97" height="1.16" fill="rgb(11,109,36)"/>
<rect x="381.2" y="266.7" width="13.97" height="1.16" fill="rgb(19,179,60)"/>
<rect x="381.2" y="267.71" width="13.97" height="1.16" fill="rgb(15,139,47)"/>
<rect x="381.2" y="271.74" width="13.97" height="1.16" fill="rgb(19,179,60)"/>
<rect x="381.2" y="278.8" width="13.97" height="1.16" fill="rgb(19,179,60)"/>
<rect x="381.2" y="279.8" width="13.97" height="1.16" fill="rgb(14,137,46)"/>
<rect x="381.2" y="283.84" width="13.97" height="1.16" fill="rgb(19,179,60)"/>
<rect x="381.2" y="286.86" width="13.97" height="1.16" fill="rgb(15,147,49)"/>
<rect x="381.2" y="289.88" width="13.97" height="1.16" fill="rgb(15,147,49)"/>
<rect x="381.2" y="300.97" width="13.97" height="1.16" fill="rgb(14,133,44)"/>
<rect x="381.2" y="303.99" width="13.97" height="1.16" fill="rgb(12,111,37)"/>
<rect x="381.2" y="305" width="13.97" height="1.16" fill="rgb(19,179,60)"/>
<rect x="381.2" y="310.04" width="13.97" height="1.16" fill="rgb(19,179,60)"/>
<rect x="381.2" y="313.06" width="13.97" height="1.16" fill="rgb(19,179,60)"/>
<rect x="394.97" y="251.59" width="13.97" height="1.16" fill="rgb(18,152,43)"/>
<rect x="394.97" y="252.59" width="13.97" height="1.16" fill="rgb(23,196,56)"/>
<rect x="394.97" y="254.61" width="13.97" height="1.16" fill="rgb(23,196,56)"/>
<rect x="394.97" y="266.7" width="13.97" height="1.16" fill="rgb(23,196,56)"/>
<rect x="394.97" y="267.71" width="13.97" height="1.16" fill="rgb(17,148,42)"/>
<rect x="394.97" y="272.75" width="13.97" height="1.16" fill="rgb(23,196,56)"/>
<rect x="394.97" y="282.83" width="13.97" height="1.16" fill="rgb(23,196,56)"/>
<rect x="394.97" y="305" width="13.97" height="1.16" fill="rgb(23,196,56)"/>
<rect x="394.97" y="310.04" width="13.97" height="1.16" fill="rgb(23,196,56)"/>
<rect x="394.97" y="311.05" width="13.97" height="1.16" fill="rgb(17,147,42)"/>
<rect x="394.97" y="313.06" width="13.97" height="1.16" fill="rgb(23,196,56)"/>
<rect x="408.73" y="245.54" width="13.97" height="1.16" fill="rgb(20,168,47)"/>
<rect x="408.73" y="249.57" width="13.97" height="1.16" fill="rgb(23,198,56)"/>
<rect x="408.73" y="294.92" width="13.97" height="1.16" fill="rgb(18,152,43)"/>
<rect x="408.73" y="306.01" width="13.97" height="1.16" fill="rgb(23,198,56)"/>
<rect x="408.73" y="310.04" width="13.97" height="1.16" fill="rgb(23,198,56)"/>
<rect x="408.73" y="313.06" width="13.97" height="1.16" fill="rgb(23,198,56)"/>
<rect x="408.73" y="315.08" width="13.97" height="1.16" fill="rgb(23,198,56)"/>
<rect x="408.73" y="316.08" width="13.97" height="1.16" fill="rgb(23,198,56)"/>
<rect x="422.5" y="234.45" width="13.97" height="1.16" fill="rgb(19,177,60)"/>
<rect x="422.5" y="240.5" width="13.97" height="1.16" fill="rgb(19,177,60)"/>
<rect x="422.5" y="242.52" width="13.97" height="1.16" fill="rgb(19,177,60)"/>
<rect x="422.5" y="259.65" width="13.97" height="1.16" fill="rgb(13,121,41)"/>
<rect x="422.5" y="263.68" width="13.97" height="1.16" fill="rgb(12,110,37)"/>
<rect x="422.5" y="264.69" width="13.97" height="1.16" fill="rgb(16,147,50)"/>
<rect x="422.5" y="272.75" width="13.97" height="1.16" fill="rgb(19,177,60)"/>
<rect x="422.5" y="273.76" width="13.97" height="1.16" fill="rgb(15,137,46)"/>
<rect x="422.5" y="299.96" width="13.97" height="1.16" fill="rgb(12,114,39)"/>
<rect x="422.5" y="300.97" width="13.97" height="1.16" fill="rgb(14,132,45)"/>
<rect x="422.5" y="314.07" width="13.97" height="1.16" fill="rgb(13,120,41)"/>
<rect x="436.27" y="230.42" width="13.97" height="1.16" fill="rgb(12,142,58)"/>
<rect x="436.27" y="235.46" width="13.97" height="1.16" fill="rgb(12,142,58)"/>
<rect x="436.27" y="243.52" width="13.97" height="1.16" fill="rgb(9,104,42)"/>
<rect x="436.27" y="244.53" width="13.97" height="1.16" fill="rgb(7,79,32)"/>
<rect x="436.27" y="247.56" width="13.97" height="1.16" fill="rgb(12,142,58)"/>
<rect x="436.27" y="250.58" width="13.97" height="1.16" fill="rgb(6,72,29)"/>
<rect x="436.27" y="252.59" width="13.97" height="1.16" fill="rgb(8,91,37)"/>
<rect x="436.27" y="259.65" width="13.97" height="1.16" fill="rgb(9,100,40)"/>
<rect x="436.27" y="262.67" width="13.97" height="1.16" fill="rgb(7,83,34)"/>
<rect x="436.27" y="263.68" width="13.97" height="1.16" fill="rgb(9,103,42)"/>
<rect x="436.27" y="265.7" width="13.97" height="1.16" fill="rgb(8,98,40)"/>
<rect x="436.27" y="270.73" width="13.97" height="1.16" fill="rgb(7,82,33)"/>
<rect x="436.27" y="272.75" width="13.97" height="1.16" fill="rgb(12,142,58)"/>
<rect x="436.27" y="275.77" width="13.97" height="1.16" fill="rgb(7,85,35)"/>
<rect x="436.27" y="278.8" width="13.97" height="1.16" fill="rgb(12,142,58)"/>
<rect x="436.27" y="279.8" width="13.97" height="1.16" fill="rgb(8,98,40)"/>
<rect x="436.27" y="284.84" width="13.97" height="1.16" fill="rgb(9,106,43)"/>
<rect x="436.27" y="285.85" width="13.97" height="1.16" fill="rgb(8,95,38)"/>
<rect x="436.27" y="290.89" width="13.97" height="1.16" fill="rgb(9,108,44)"/>
<rect x="436.27" y="293.91" width="13.97" height="1.16" fill="rgb(12,142,58)"/>
<rect x="436.27" y="295.93" width="13.97" height="1.16" fill="rgb(6,73,30)"/>
<rect x="436.27" y="297.94" width="13.97" height="1.16" fill="rgb(12,142,58)"/>
<rect x="436.27" y="299.96" width="13.97" height="1.16" fill="rgb(9,101,41)"/>
<rect x="436.27" y="300.97" width="13.97" height="1.16" fill="rgb(6,75,30)"/>
<rect x="436.27" y="305" width="13.97" height="1.16" fill="rgb(9,107,44)"/>
<rect x="436.27" y="306.01" width="13.97" height="1.16" fill="rgb(12,142,58)"/>
<rect x="436.27" y="308.02" width="13.97" height="1.16" fill="rgb(12,142,58)"/>
<rect x="436.27" y="309.03" width="13.97" height="1.16" fill="rgb(6,76,31)"/>
<rect x="436.27" y="312.05" width="13.97" height="1.16" fill="rgb(12,142,58)"/>
<rect x="450.03" y="239.49" width="13.97" height="1.16" fill="rgb(10,108,41)"/>
<rect x="450.03" y="240.5" width="13.97" height="1.16" fill="rgb(15,157,60)"/>
<rect x="450.03" y="245.54" width="13.97" height="1.16" fill="rgb(9,101,39)"/>
<rect x="450.03" y="248.56" width="13.97" height="1.16" fill="rgb(9,96,36)"/>
<rect x="450.03" y="256.63" width="13.97" height="1.16" fill="rgb(8,87,33)"/>
<rect x="450.03" y="257.63" width="13.97" height="1.16" fill="rgb(11,120,46)"/>
<rect x="450.03" y="264.69" width="13.97" height="1.16" fill="rgb(15,157,60)"/>
<rect x="450.03" y="273.76" width="13.97" height="1.16" fill="rgb(10,113,43)"/>
<rect x="450.03" y="274.77" width="13.97" height="1.16" fill="rgb(9,102,39)"/>
<rect x="450.03" y="283.84" width="13.97" height="1.16" fill="rgb(15,157,60)"/>
<rect x="450.03" y="285.85" width="13.97" height="1.16" fill="rgb(9,97,37)"/>
<rect x="450.03" y="290.89" width="13.97" height="1.16" fill="rgb(10,114,43)"/>
<rect x="450.03" y="293.91" width="13.97" height="1.16" fill="rgb(15,157,60)"/>
<rect x="450.03" y="295.93" width="13.97" height="1.16" fill="rgb(9,94,36)"/>
<rect x="450.03" y="296.94" width="13.97" height="1.16" fill="rgb(10,105,40)"/>
<rect x="450.03" y="307.01" width="13.97" height="1.16" fill="rgb(9,93,36)"/>
<rect x="450.03" y="315.08" width="13.97" height="1.16" fill="rgb(15,157,60)"/>
<rect x="463.8" y="229.42" width="13.97" height="1.16" fill="rgb(14,134,46)"/>
<rect x="463.8" y="239.49" width="13.97" height="1.16" fill="rgb(14,130,44)"/>
<rect x="463.8" y="243.52" width="13.97" height="1.16" fill="rgb(13,126,43)"/>
<rect x="463.8" y="245.54" width="13.97" height="1.16" fill="rgb(15,140,47)"/>
<rect x="463.8" y="250.58" width="13.97" height="1.16" fill="rgb(11,108,37)"/>
<rect x="463.8" y="252.59" width="13.97" height="1.16" fill="rgb(14,133,45)"/>
<rect x="463.8" y="264.69" width="13.97" height="1.16" fill="rgb(12,109,37)"/>
<rect x="463.8" y="265.7" width="13.97" height="1.16" fill="rgb(13,126,43)"/>
<rect x="463.8" y="267.71" width="13.97" height="1.16" fill="rgb(15,141,48)"/>
<rect x="463.8" y="273.76" width="13.97" height="1.16" fill="rgb(10,100,34)"/>
<rect x="463.8" y="278.8" width="13.97" height="1.16" fill="rgb(13,122,41)"/>
<rect x="463.8" y="286.86" width="13.97" height="1.16" fill="rgb(12,117,40)"/>
<rect x="463.8" y="290.89" width="13.97" height="1.16" fill="rgb(14,133,45)"/>
<rect x="463.8" y="297.94" width="13.97" height="1.16" fill="rgb(19,177,60)"/>
<rect x="463.8" y="299.96" width="13.97" height="1.16" fill="rgb(12,114,39)"/>
<rect x="463.8" y="305" width="13.97" height="1.16" fill="rgb(13,122,41)"/>
<rect x="463.8" y="307.01" width="13.97" height="1.16" fill="rgb(19,177,60)"/>
<rect x="463.8" y="310.04" width="13.97" height="1.16" fill="rgb(19,177,60)"/>
<rect x="463.8" y="314.07" width="13.97" height="1.16" fill="rgb(11,108,37)"/>
<rect x="477.57" y="227.4" width="13.97" height="1.16" fill="rgb(12,123,44)"/>
<rect x="477.57" y="228.41" width="13.97" height="1.16" fill="rgb(11,107,38)"/>
<rect x="477.57" y="234.45" width="13.97" height="1.16" fill="rgb(17,168,60)"/>
<rect x="477.57" y="245.54" width="13.97" height="1.16" fill="rgb(11,115,41)"/>
<rect x="477.57" y="249.57" width="13.97" height="1.16" fill="rgb(17,168,60)"/>
<rect x="477.57" y="250.58" width="13.97" height="1.16" fill="rgb(9,88,31)"/>
<rect x="477.57" y="252.59" width="13.97" height="1.16" fill="rgb(12,122,43)"/>
<rect x="477.57" y="254.61" width="13.97" height="1.16" fill="rgb(17,168,60)"/>
<rect x="477.57" y="257.63" width="13.97" height="1.16" fill="rgb(17,168,60)"/>
<rect x="477.57" y="271.74" width="13.97" height="1.16" fill="rgb(12,117,42)"/>
<rect x="477.57" y="274.77" width="13.97" height="1.16" fill="rgb(12,125,44)"/>
<rect x="477.57" y="277.79" width="13.97" height="1.16" fill="rgb(10,106,38)"/>
<rect x="477.57" y="289.88" width="13.97" height="1.16" fill="rgb(12,126,45)"/>
<rect x="477.57" y="295.93" width="13.97" height="1.16" fill="rgb(10,103,37)"/>
<rect x="477.57" y="296.94" width="13.97" height="1.16" fill="rgb(10,105,37)"/>
<rect x="477.57" y="299.96" width="13.97" height="1.16" fill="rgb(8,87,31)"/>
<rect x="477.57" y="300.97" width="13.97" height="1.16" fill="rgb(11,114,41)"/>
<rect x="477.57" y="302.98" width="13.97" height="1.16" fill="rgb(10,101,36)"/>
<rect x="477.57" y="306.01" width="13.97" height="1.16" fill="rgb(8,87,31)"/>
<rect x="477.57" y="309.03" width="13.97" height="1.16" fill="rgb(10,101,36)"/>
<rect x="491.33" y="227.4" width="13.97" height="1.16" fill="rgb(12,110,38)"/>
<rect x="491.33" y="231.43" width="13.97" height="1.16" fill="rgb(13,120,41)"/>
<rect x="491.33" y="233.45" width="13.97" height="1.16" fill="rgb(19,174,60)"/>
<rect x="491.33" y="239.49" width="13.97" height="1.16" fill="rgb(14,132,45)"/>
<rect x="491.33" y="241.51" width="13.97" height="1.16" fill="rgb(19,174,60)"/>
<rect x="491.33" y="244.53" width="13.97" height="1.16" fill="rgb(11,99,34)"/>
<rect x="491.33" y="248.56" width="13.97" height="1.16" fill="rgb(19,174,60)"/>
<rect x="491.33" y="250.58" width="13.97" height="1.16" fill="rgb(14,132,45)"/>
<rect x="491.33" y="253.6" width="13.97" height="1.16" fill="rgb(14,128,44)"/>
<rect x="491.33" y="259.65" width="13.97" height="1.16" fill="rgb(11,101,35)"/>
<rect x="491.33" y="264.69" width="13.97" height="1.16" fill="rgb(14,126,43)"/>
<rect x="491.33" y="265.7" width="13.97" height="1.16" fill="rgb(14,132,45)"/>
<rect x="491.33" y="266.7" width="13.97" height="1.16" fill="rgb(19,174,60)"/>
<rect x="491.33" y="273.76" width="13.97" height="1.16" fill="rgb(11,99,34)"/>
<rect x="491.33" y="274.77" width="13.97" height="1.16" fill="rgb(13,122,42)"/>
<rect x="491.33" y="278.8" width="13.97" height="1.16" fill="rgb(15,138,48)"/>
<rect x="491.33" y="283.84" width="13.97" height="1.16" fill="rgb(19,174,60)"/>
<rect x="491.33" y="294.92" width="13.97" height="1.16" fill="rgb(15,141,48)"/>
<rect x="491.33" y="299.96" width="13.97" height="1.16" fill="rgb(14,130,45)"/>
<rect x="491.33" y="300.97" width="13.97" height="1.16" fill="rgb(11,105,36)"/>
<rect x="491.33" y="301.98" width="13.97" height="1.16" fill="rgb(19,174,60)"/>
<rect x="491.33" y="305" width="13.97" height="1.16" fill="rgb(14,130,45)"/>
<rect x="491.33" y="306.01" width="13.97" height="1.16" fill="rgb(19,174,60)"/>
<rect x="491.33" y="312.05" width="13.97" height="1.16" fill="rgb(19,174,60)"/>
<rect x="505.1" y="227.4" width="13.97" height="1.16" fill="rgb(51,10,10)"/>
<rect x="505.1" y="228.41" width="13.97" height="1.16" fill="rgb(55,10,10)"/>
<rect x="505.1" y="233.45" width="13.97" height="1.16" fill="rgb(87,10,10)"/>
<rect x="505.1" y="234.45" width="13.97" height="1.16" fill="rgb(50,10,10)"/>
<rect x="505.1" y="243.52" width="13.97" height="1.16" fill="rgb(6,34,10)"/>
<rect x="505.1" y="246.55" width="13.97" height="1.16" fill="rgb(6,46,10)"/>
<rect x="505.1" y="248.56" width="13.97" height="1.16" fill="rgb(6,26,10)"/>
<rect x="505.1" y="251.59" width="13.97" height="1.16" fill="rgb(94,10,10)"/>
<rect x="505.1" y="255.62" width="13.97" height="1.16" fill="rgb(6,34,10)"/>
<rect x="505.1" y="258.64" width="13.97" height="1.16" fill="rgb(6,31,10)"/>
<rect x="505.1" y="260.66" width="13.97" height="1.16" fill="rgb(63,10,10)"/>
<rect x="505.1" y="261.66" width="13.97" height="1.16" fill="rgb(70,10,10)"/>
<rect x="505.1" y="264.69" width="13.97" height="1.16" fill="rgb(6,34,10)"/>
<rect x="505.1" y="265.7" width="13.97" height="1.16" fill="rgb(71,10,10)"/>
<rect x="505.1" y="271.74" width="13.97" height="1.16" fill="rgb(6,30,10)"/>
<rect x="505.1" y="275.77" width="13.97" height="1.16" fill="rgb(60,10,10)"/>
<rect x="505.1" y="276.78" width="13.97" height="1.16" fill="rgb(6,38,10)"/>
<rect x="505.1" y="277.79" width="13.97" height="1.16" fill="rgb(72,10,10)"/>
<rect x="505.1" y="280.81" width="13.97" height="1.16" fill="rgb(120,10,10)"/>
<rect x="505.1" y="281.82" width="13.97" height="1.16" fill="rgb(63,10,10)"/>
<rect x="505.1" y="283.84" width="13.97" height="1.16" fill="rgb(90,10,10)"/>
<rect x="505.1" y="285.85" width="13.97" height="1.16" fill="rgb(72,10,10)"/>
<rect x="505.1" y="290.89" width="13.97" height="1.16" fill="rgb(6,53,10)"/>
<rect x="505.1" y="292.91" width="13.97" height="1.16" fill="rgb(68,10,10)"/>
<rect x="505.1" y="294.92" width="13.97" height="1.16" fill="rgb(6,39,10)"/>
<rect x="505.1" y="296.94" width="13.97" height="1.16" fill="rgb(61,10,10)"/>
<rect x="505.1" y="297.94" width="13.97" height="1.16" fill="rgb(60,10,10)"/>
<rect x="505.1" y="298.95" width="13.97" height="1.16" fill="rgb(6,28,10)"/>
<rect x="505.1" y="299.96" width="13.97" height="1.16" fill="rgb(6,29,10)"/>
<rect x="505.1" y="300.97" width="13.97" height="1.16" fill="rgb(6,26,10)"/>
<rect x="505.1" y="301.98" width="13.97" height="1.16" fill="rgb(58,10,10)"/>
<rect x="505.1" y="302.98" width="13.97" height="1.16" fill="rgb(6,37,10)"/>
<rect x="505.1" y="305" width="13.97" height="1.16" fill="rgb(100,10,10)"/>
<rect x="505.1" y="306.01" width="13.97" height="1.16" fill="rgb(116,10,10)"/>
<rect x="505.1" y="307.01" width="13.97" height="1.16" fill="rgb(6,24,10)"/>
<rect x="505.1" y="313.06" width="13.97" height="1.16" fill="rgb(62,10,10)"/>
<rect x="505.1" y="314.07" width="13.97" height="1.16" fill="rgb(6,24,10)"/>
<rect x="518.87" y="229.42" width="13.97" height="1.16" fill="rgb(246,46,54)"/>
<rect x="518.87" y="235.46" width="13.97" height="1.16" fill="rgb(246,46,54)"/>
<rect x="518.87" y="241.51" width="13.97" height="1.16" fill="rgb(246,46,54)"/>
<rect x="518.87" y="243.52" width="13.97" height="1.16" fill="rgb(200,24,30)"/>
<rect x="518.87" y="246.55" width="13.97" height="1.16" fill="rgb(246,46,54)"/>
<rect x="518.87" y="247.56" width="13.97" height="1.16" fill="rgb(200,24,30)"/>
<rect x="518.87" y="250.58" width="13.97" height="1.16" fill="rgb(200,24,30)"/>
<rect x="518.87" y="261.66" width="13.97" height="1.16" fill="rgb(246,46,54)"/>
<rect x="518.87" y="271.74" width="13.97" height="1.16" fill="rgb(246,46,54)"/>
<rect x="518.87" y="273.76" width="13.97" height="1.16" fill="rgb(200,24,30)"/>
<rect x="518.87" y="275.77" width="13.97" height="1.16" fill="rgb(246,46,54)"/>
<rect x="518.87" y="276.78" width="13.97" height="1.16" fill="rgb(246,46,54)"/>
<rect x="518.87" y="282.83" width="13.97" height="1.16" fill="rgb(246,46,54)"/>
<rect x="518.87" y="283.84" width="13.97" height="1.16" fill="rgb(246,46,54)"/>
<rect x="518.87" y="285.85" width="13.97" height="1.16" fill="rgb(246,46,54)"/>
<rect x="518.87" y="288.87" width="13.97" height="1.16" fill="rgb(200,24,30)"/>
<rect x="518.87" y="293.91" width="13.97" height="1.16" fill="rgb(246,46,54)"/>
<rect x="518.87" y="294.92" width="13.97" height="1.16" fill="rgb(200,24,30)"/>
<rect x="518.87" y="296.94" width="13.97" height="1.16" fill="rgb(246,46,54)"/>
<rect x="518.87" y="306.01" width="13.97" height="1.16" fill="rgb(246,46,54)"/>
<rect x="518.87" y="308.02" width="13.97" height="1.16" fill="rgb(246,46,54)"/>
<rect x="532.63" y="230.42" width="13.97" height="1.16" fill="rgb(4,57,23)"/>
<rect x="532.63" y="231.43" width="13.97" height="1.16" fill="rgb(5,65,26)"/>
<rect x="532.63" y="233.45" width="13.97" height="1.16" fill="rgb(2,35,14)"/>
<rect x="532.63" y="238.49" width="13.97" height="1.16" fill="rgb(2,35,14)"/>
<rect x="532.63" y="243.52" width="13.97" height="1.16" fill="rgb(3,44,18)"/>
<rect x="532.63" y="247.56" width="13.97" height="1.16" fill="rgb(2,34,14)"/>
<rect x="532.63" y="248.56" width="13.97" height="1.16" fill="rgb(8,105,43)"/>
<rect x="532.63" y="252.59" width="13.97" height="1.16" fill="rgb(3,38,15)"/>
<rect x="532.63" y="253.6" width="13.97" height="1.16" fill="rgb(3,40,16)"/>
<rect x="532.63" y="257.63" width="13.97" height="1.16" fill="rgb(8,105,43)"/>
<rect x="532.63" y="258.64" width="13.97" height="1.16" fill="rgb(5,70,28)"/>
<rect x="532.63" y="264.69" width="13.97" height="1.16" fill="rgb(5,72,29)"/>
<rect x="532.63" y="267.71" width="13.97" height="1.16" fill="rgb(2,29,12)"/>
<rect x="532.63" y="270.73" width="13.97" height="1.16" fill="rgb(3,37,15)"/>
<rect x="532.63" y="271.74" width="13.97" height="1.16" fill="rgb(3,39,15)"/>
<rect x="532.63" y="273.76" width="13.97" height="1.16" fill="rgb(3,37,15)"/>
<rect x="532.63" y="276.78" width="13.97" height="1.16" fill="rgb(3,38,15)"/>
<rect x="532.63" y="279.8" width="13.97" height="1.16" fill="rgb(3,41,16)"/>
<rect x="532.63" y="282.83" width="13.97" height="1.16" fill="rgb(8,105,43)"/>
<rect x="532.63" y="284.84" width="13.97" height="1.16" fill="rgb(4,55,22)"/>
<rect x="532.63" y="288.87" width="13.97" height="1.16" fill="rgb(4,61,24)"/>
<rect x="532.63" y="291.9" width="13.97" height="1.16" fill="rgb(5,67,27)"/>
<rect x="532.63" y="294.92" width="13.97" height="1.16" fill="rgb(5,69,28)"/>
<rect x="532.63" y="295.93" width="13.97" height="1.16" fill="rgb(3,41,16)"/>
<rect x="532.63" y="298.95" width="13.97" height="1.16" fill="rgb(8,105,43)"/>
<rect x="532.63" y="299.96" width="13.97" height="1.16" fill="rgb(3,45,18)"/>
<rect x="532.63" y="300.97" width="13.97" height="1.16" fill="rgb(4,55,22)"/>
<rect x="532.63" y="303.99" width="13.97" height="1.16" fill="rgb(2,34,14)"/>
<rect x="532.63" y="307.01" width="13.97" height="1.16" fill="rgb(5,67,27)"/>
<rect x="532.63" y="312.05" width="13.97" height="1.16" fill="rgb(8,105,43)"/>
<rect x="532.63" y="316.08" width="13.97" height="1.16" fill="rgb(4,53,21)"/>
</g>
<rect x="295.9" y="227.4" width="3.1" height="90.7" fill="#030603"/>
<rect x="296.2" y="227.4" width="250.2" height="90.7" fill="none" stroke="#0a0a0a" stroke-width="0.8"/>
<rect x="302.4" y="373.1" width="11.3" height="10.2" fill="#0b47ab" stroke="#020612" stroke-width="0.85"/>
<rect x="315.87" y="378.3" width="11.3" height="5" fill="#0b47ab" stroke="#020612" stroke-width="0.85"/>
<rect x="329.34" y="383.3" width="11.3" height="4.4" fill="#0b47ab" stroke="#020612" stroke-width="0.85"/>
<rect x="342.81" y="383.3" width="11.3" height="6.7" fill="#0b47ab" stroke="#020612" stroke-width="0.85"/>
<rect x="356.28" y="383.3" width="11.3" height="19" fill="#0b47ab" stroke="#020612" stroke-width="0.85"/>
<rect x="369.75" y="383.3" width="11.3" height="11.4" fill="#0b47ab" stroke="#020612" stroke-width="0.85"/>
<rect x="383.22" y="383.3" width="11.3" height="9.1" fill="#0b47ab" stroke="#020612" stroke-width="0.85"/>
<rect x="396.69" y="383.3" width="11.3" height="16.7" fill="#0b47ab" stroke="#020612" stroke-width="0.85"/>
<rect x="410.16" y="383.3" width="11.3" height="19" fill="#0b47ab" stroke="#020612" stroke-width="0.85"/>
<rect x="423.63" y="383.3" width="11.3" height="12.6" fill="#0b47ab" stroke="#020612" stroke-width="0.85"/>
<path d="M437.1 383.6 H448.4" stroke="#111" stroke-width="0.8"/>
<rect x="450.57" y="383.3" width="11.3" height="3.8" fill="#0b47ab" stroke="#020612" stroke-width="0.85"/>
<rect x="464.04" y="383.3" width="11.3" height="9.4" fill="#0b47ab" stroke="#020612" stroke-width="0.85"/>
<rect x="477.51" y="383.3" width="11.3" height="2.9" fill="#0b47ab" stroke="#020612" stroke-width="0.85"/>
<rect x="490.98" y="383.3" width="11.3" height="6.1" fill="#0b47ab" stroke="#020612" stroke-width="0.85"/>
<rect x="504.45" y="350.3" width="11.3" height="33" fill="#0b47ab" stroke="#020612" stroke-width="0.85"/>
<rect x="517.92" y="319.9" width="11.3" height="63.4" fill="#0b47ab" stroke="#020612" stroke-width="0.85"/>
<rect x="531.39" y="374" width="11.3" height="9.3" fill="#0b47ab" stroke="#020612" stroke-width="0.85"/>
<path d="M292.9 333.74 V399.82" stroke="#222" stroke-width="0.8"/>
<path d="M290.4 399.82 H292.9" stroke="#222" stroke-width="0.8"/>
<text class="ss" transform="translate(288.2 401.42) rotate(-90) scale(0.1)" font-size="76" text-anchor="middle" fill="#111">−0.2</text>
<path d="M290.4 383.3 H292.9" stroke="#222" stroke-width="0.8"/>
<text class="ss" transform="translate(288.2 383.3) rotate(-90) scale(0.1)" font-size="76" text-anchor="middle" fill="#111">0.0</text>
<path d="M290.4 366.78 H292.9" stroke="#222" stroke-width="0.8"/>
<text class="ss" transform="translate(288.2 366.78) rotate(-90) scale(0.1)" font-size="76" text-anchor="middle" fill="#111">0.2</text>
<path d="M290.4 350.26 H292.9" stroke="#222" stroke-width="0.8"/>
<text class="ss" transform="translate(288.2 350.26) rotate(-90) scale(0.1)" font-size="76" text-anchor="middle" fill="#111">0.4</text>
<path d="M290.4 333.74 H292.9" stroke="#222" stroke-width="0.8"/>
<text class="ss" transform="translate(288.2 333.74) rotate(-90) scale(0.1)" font-size="76" text-anchor="middle" fill="#111">0.6</text>
<text class="sn" transform="translate(277.7 368.0) rotate(-90) scale(0.1)" font-size="61" text-anchor="middle" fill="#111" textLength="640" lengthAdjust="spacingAndGlyphs">eigengene expression</text>
<text class="ss" transform="translate(427.7 418.1) scale(0.1)" font-size="83" text-anchor="middle" fill="#111" textLength="482" lengthAdjust="spacingAndGlyphs">array sample</text>
</g>
</svg>
</body>
</html>
